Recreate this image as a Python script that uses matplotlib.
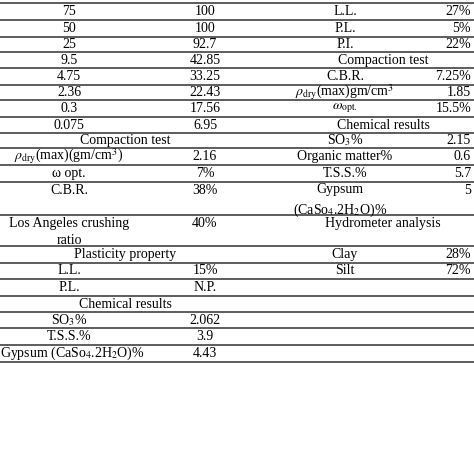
import matplotlib
matplotlib.use("Agg")
import matplotlib.pyplot as plt

plt.rcParams['font.family'] = ['Liberation Serif', 'DejaVu Serif']
plt.rcParams['mathtext.fontset'] = 'stix'

# left block: (label, value) ; value None => spanning heading
left_labels = ["75", "50", "25", "9.5", "4.75", "2.36", "0.3", "0.075",
               "Compaction test", r"$\rho_{\mathrm{dry}}$(max)(gm/cm$^3$)", "ω opt.", "C.B.R.",
               "Los Angeles crushing\nratio", "Plasticity property", "L.L.", "P.L.",
               "Chemical results", r"SO$_3$%", "T.S.S.%", r"Gypsum (CaSo$_4$.2H$_2$O)%"]
left_values = ["100", "100", "92.7", "42.85", "33.25", "22.43", "17.56", "6.95",
               None, "2.16", "7%", "38%", "40%", None, "15%", "N.P.",
               None, "2.062", "3.9", "4.43"]
right_labels = ["L.L.", "P.L.", "P.I.", "Compaction test", "C.B.R.",
                r"$\rho_{\mathrm{dry}}$(max)gm/cm$^3$", r"$\omega_{\mathrm{opt.}}$",
                "Chemical results", r"SO$_3$%", "Organic matter%", "T.S.S.%",
                "Gypsum\n" + r"(CaSo$_4$.2H$_2$O)%", "Hydrometer analysis", "Clay", "Silt",
                "", "", "", "", ""]
right_values = ["27%", "5%", "22%", None, "7.25%", "1.85", "15.5%", None,
                "2.15", "0.6", "5.7", "5", None, "28%", "72%", "", "", "", "", ""]

# row boundaries in pixels (layout)
bounds = [3, 20, 37, 52, 68, 85, 100, 117, 133, 148, 165, 182, 215, 246,
          263, 279, 296, 312, 328, 345, 362]

fig = plt.figure(figsize=(4.74, 4.74), dpi=100)
ax = fig.add_axes([0, 0, 1, 1])
ax.set_xlim(0, 474)
ax.set_ylim(474, 0)
ax.axis('off')

for b in bounds:
    ax.axhline(b, color='#505050', lw=1.3)

fs = 10
for i in range(len(left_labels)):
    top, bot = bounds[i], bounds[i + 1]
    tall = bot - top > 25
    yc = (top + bot) / 2 if not tall else top + 8.5
    lab = left_labels[i]
    lx = 72 if i == len(left_labels) - 1 else 69
    if left_values[i] is None:
        ax.text(125, yc, lab, ha='center', va='center', fontsize=fs)
    else:
        if '\n' in lab:
            ax.text(lx, top + 1.5, lab, ha='center', va='top', fontsize=fs,
                    multialignment='center', linespacing=1.45)
        else:
            ax.text(lx, yc, lab, ha='center', va='center', fontsize=fs)
        ax.text(205, yc, left_values[i], ha='center', va='center', fontsize=fs)

    lab = right_labels[i]
    if right_values[i] is None:
        ax.text(383, yc, lab, ha='center', va='center', fontsize=fs)
    elif lab:
        if '\n' in lab:
            ax.text(340, top + 1.5, lab, ha='center', va='top', fontsize=fs,
                    multialignment='center', linespacing=1.45)
        else:
            ax.text(345, yc, lab, ha='center', va='center', fontsize=fs)
        ax.text(471, yc, right_values[i], ha='right', va='center', fontsize=fs)

fig.savefig("out.png", dpi=100, facecolor='white')
